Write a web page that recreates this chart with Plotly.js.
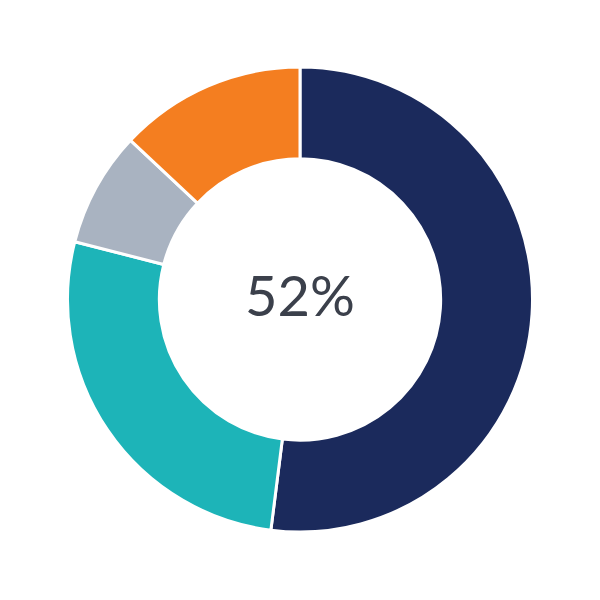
<!DOCTYPE html>
<html>
<head>
<meta charset="utf-8">
<script src="https://cdn.plot.ly/plotly-3.0.1.min.js"></script>
<style>
  html, body { margin: 0; padding: 0; background: #fff; }
  #chart { width: 600px; height: 600px; }
</style>
</head>
<body>
<div id="chart"></div>
<script>
const labels = ['Navy', 'Teal', 'Gray', 'Orange'];
const values = [52, 27, 8, 13];
const colors = ['#1b2a5c', '#1db4b8', '#a9b3c1', '#f47e20'];
const centerLabel = '52%';

const trace = {
  type: 'pie',
  labels: labels,
  values: values,
  hole: 0.605,
  sort: false,
  direction: 'clockwise',
  rotation: 0,
  textinfo: 'none',
  hoverinfo: 'none',
  marker: {
    colors: colors,
    line: {color: '#ffffff', width: 3}
  }
};

const layout = {
  width: 600,
  height: 600,
  margin: {l: 67, r: 67, t: 67, b: 68},
  showlegend: false,
  paper_bgcolor: '#ffffff',
  annotations: [{
    text: centerLabel,
    x: 0.5, y: 0.5,
    xref: 'paper', yref: 'paper',
    yshift: 5,
    showarrow: false,
    font: {family: 'Lato, sans-serif', size: 56, color: '#3b404b'}
  }]
};

Plotly.newPlot('chart', [trace], layout, {staticPlot: true});
</script>
</body>
</html>
